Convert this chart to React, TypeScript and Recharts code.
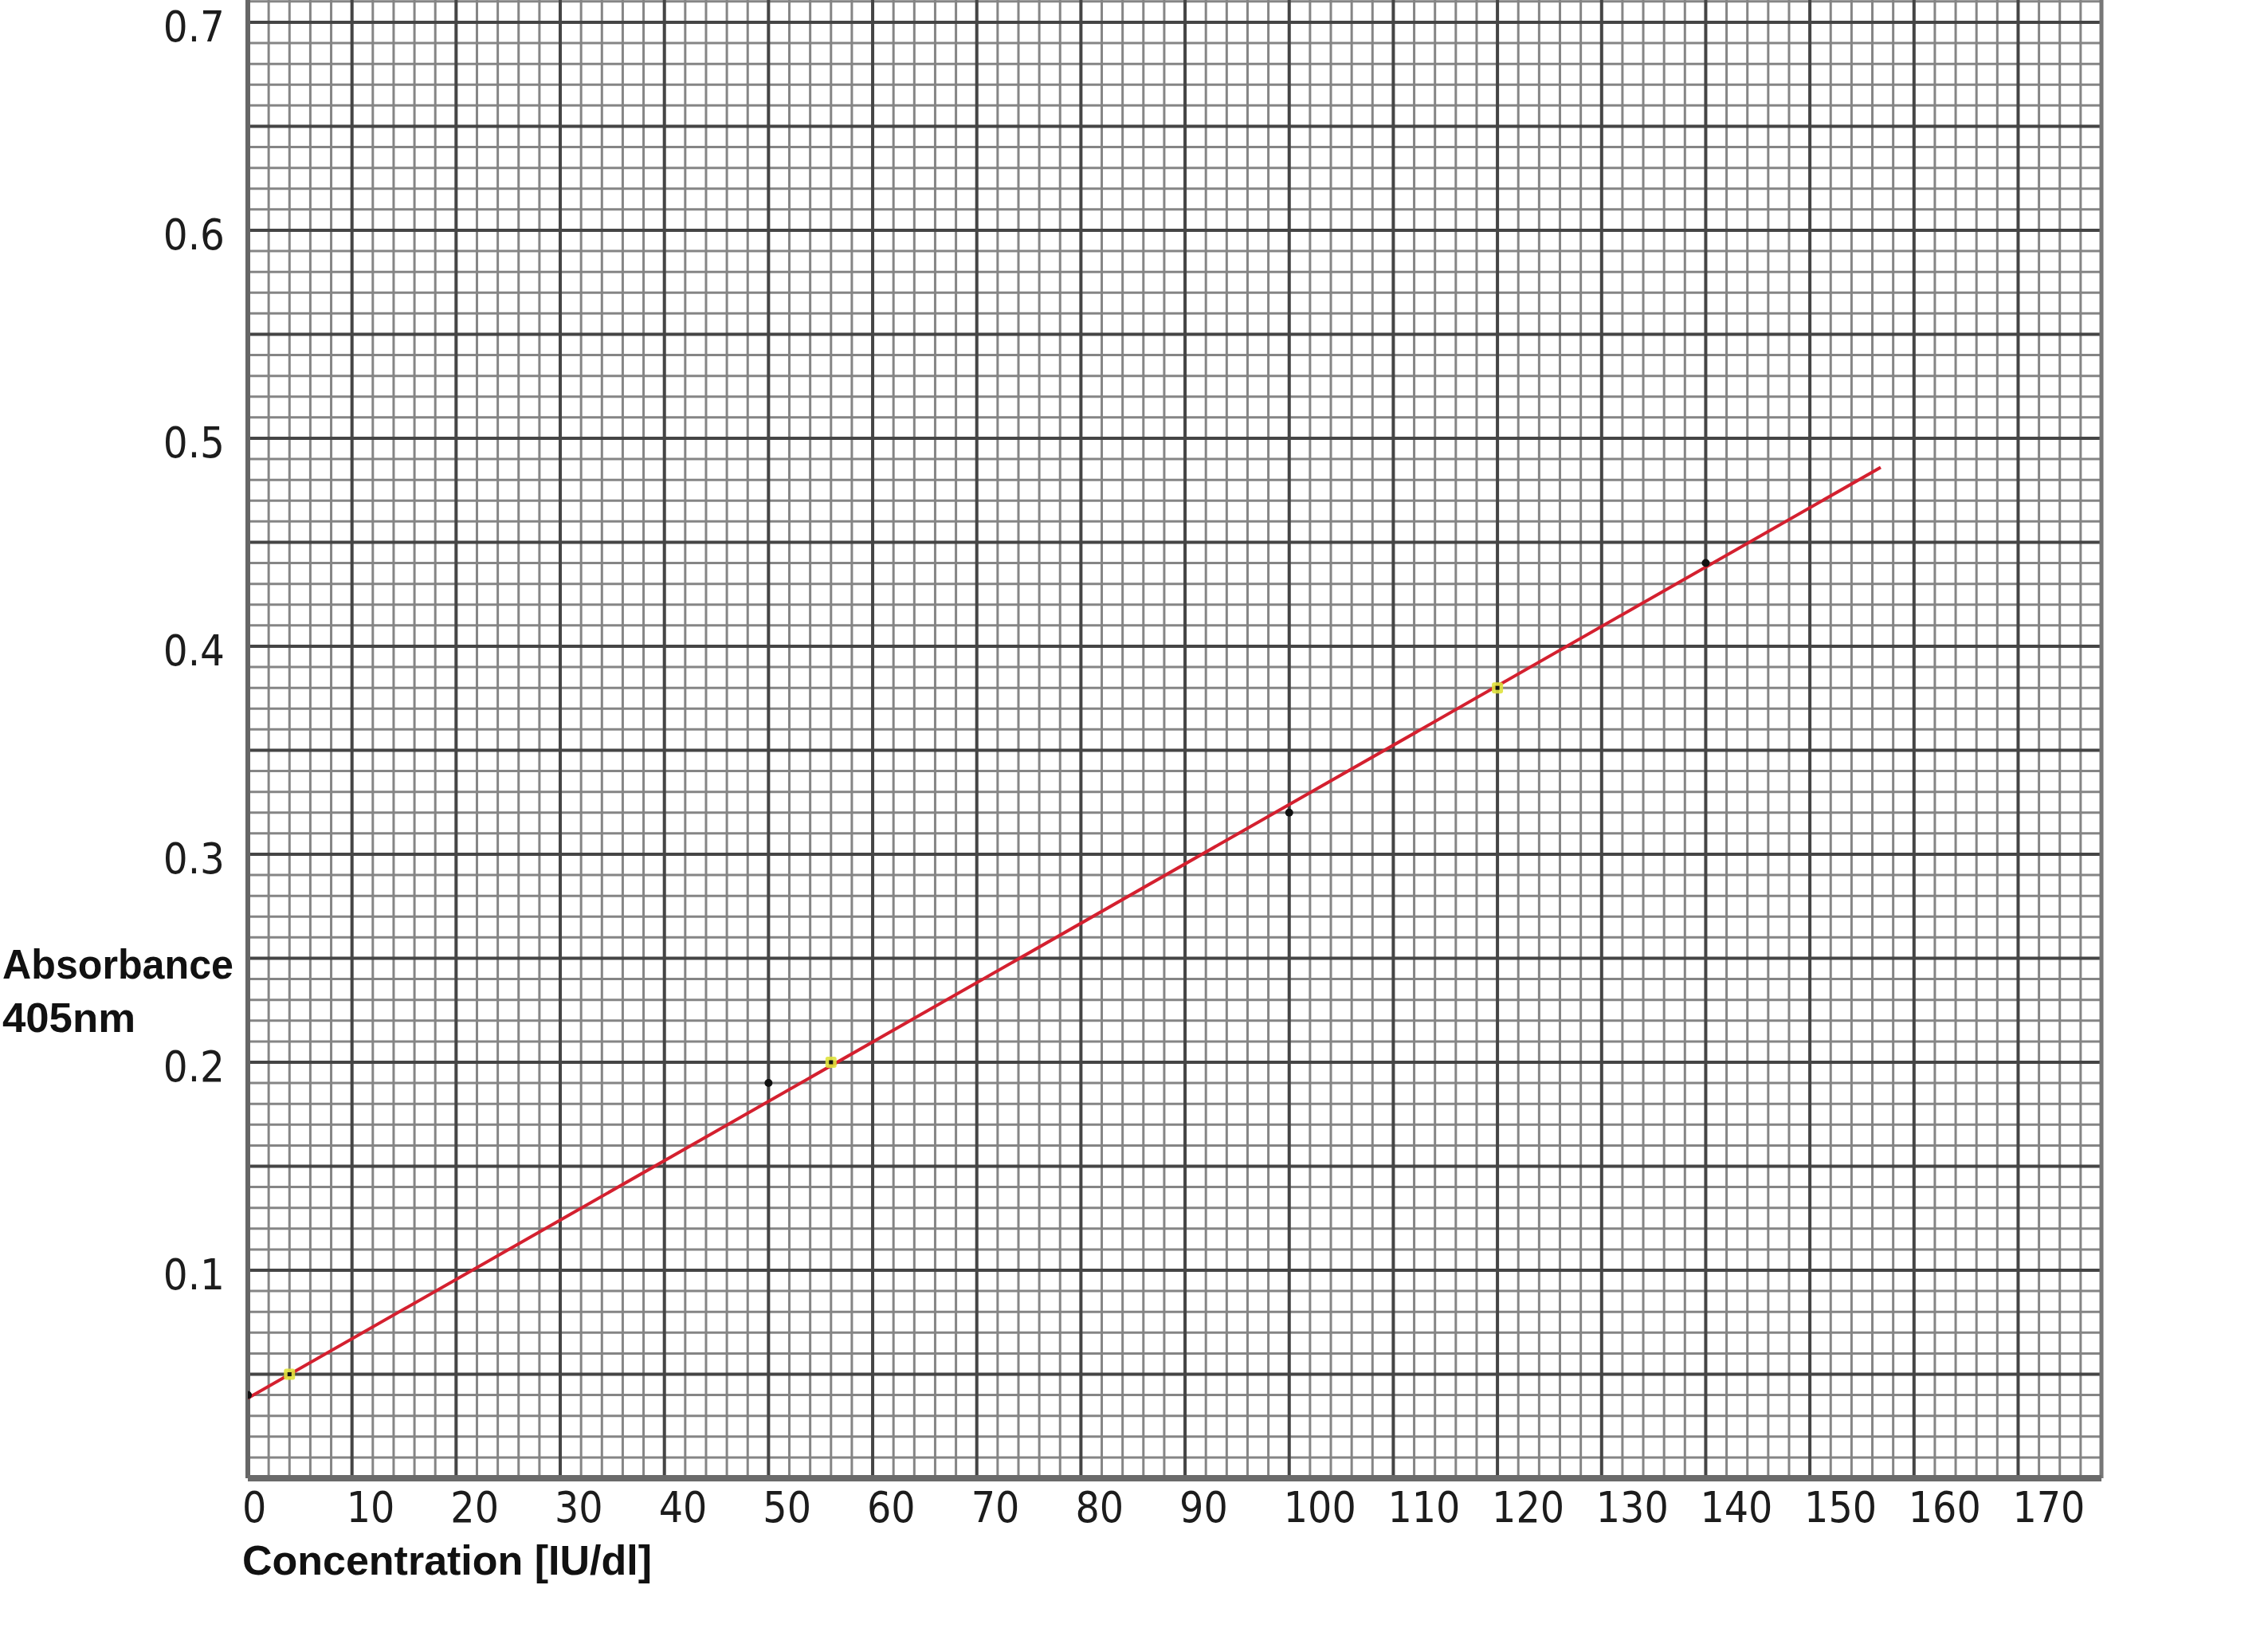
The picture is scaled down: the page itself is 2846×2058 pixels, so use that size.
import React from "react";
import { ScatterChart, Scatter, XAxis, YAxis, ReferenceLine } from "recharts";

// ---- data ----
const standardConc = [0, 50, 100, 140];
const standardAbs = [0.04, 0.19, 0.32, 0.44];
const sampleConc = [4, 56, 120];
const sampleAbs = [0.05, 0.2, 0.38];
const fitConc = [0, 156.8];
const fitAbs = [0.0385, 0.486];

const xTicks = [0, 10, 20, 30, 40, 50, 60, 70, 80, 90, 100, 110, 120, 130, 140, 150, 160, 170];
const yTicks = [0.1, 0.2, 0.3, 0.4, 0.5, 0.6, 0.7];

const X_MAX = 178;
const Y_MAX = 0.7107;

// grid (graph paper) positions
const xMinor: number[] = [];
for (let i = 0; i <= 89; i++) xMinor.push(i * 2);
const xMajor: number[] = [];
for (let i = 0; i <= 17; i++) xMajor.push(i * 10);
const yMinor: number[] = [];
for (let i = 0; i <= 71; i++) yMinor.push(i / 100);
const yMajor: number[] = [];
for (let i = 0; i <= 14; i++) yMajor.push((i * 5) / 100);

const zip = (xs: number[], ys: number[]) => xs.map((x, i) => ({ x, y: ys[i] }));
const standardData = zip(standardConc, standardAbs);
const sampleData = zip(sampleConc, sampleAbs);
const fitData = zip(fitConc, fitAbs);

const FONT = "'Liberation Sans Narrow', 'DejaVu Sans Condensed', 'Liberation Sans', sans-serif";
const TEXT = "#1c1c1c";

const XTick = (props: any) => {
  const { x, y, payload } = props;
  return (
    <text x={x - 7} y={y} dy="0.71em" textAnchor="start" fontFamily={FONT} fontSize={53} fill={TEXT}>
      {payload.value}
    </text>
  );
};

const YTick = (props: any) => {
  const { x, y, payload } = props;
  return (
    <text x={x} y={y + 5} dy="0.355em" textAnchor="end" fontFamily={FONT} fontSize={54} fill={TEXT}>
      {payload.value}
    </text>
  );
};

const BlackDot = (props: any) => {
  const { cx, cy } = props;
  return <circle cx={cx} cy={cy} r={5} fill="#111" />;
};

const YellowDot = (props: any) => {
  const { cx, cy } = props;
  return (
    <g>
      <rect x={cx - 7} y={cy - 7} width={14} height={14} rx={3} fill="#dfe23c" opacity={0.9} />
      <rect x={cx - 2.5} y={cy - 2.5} width={5} height={5} fill="#111" />
    </g>
  );
};

const NoShape = () => <g />;

export default function App() {
  return (
    <div style={{ position: "absolute", left: 0, top: 0, width: 2846, height: 2058, background: "#fff" }}>
      <ScatterChart width={2846} height={2058} margin={{ top: 0, right: 209, bottom: 0, left: 0 }}>
        <XAxis
          type="number"
          dataKey="x"
          domain={[0, X_MAX]}
          allowDataOverflow
          ticks={xTicks}
          interval={0}
          axisLine={false}
          tickLine={false}
          tickSize={0}
          tickMargin={17}
          height={203}
          tick={<XTick />}
          label={(p: any) => {
            const vb = p.viewBox || { x: 311, y: 1855 };
            return (
              <text
                x={vb.x - 7}
                y={vb.y + 121}
                fontFamily="'Liberation Sans', Arial, sans-serif"
                fontWeight="bold"
                fontSize={52}
                fill="#111"
                textLength={514}
                lengthAdjust="spacingAndGlyphs"
              >
                Concentration [IU/dl]
              </text>
            );
          }}
        />
        <YAxis
          type="number"
          dataKey="y"
          domain={[0, Y_MAX]}
          allowDataOverflow
          ticks={yTicks}
          interval={0}
          axisLine={false}
          tickLine={false}
          tickSize={0}
          tickMargin={29}
          width={311}
          tick={<YTick />}
          label={() => (
            <g fontFamily="'Liberation Sans', Arial, sans-serif" fontWeight="bold" fontSize={52} fill="#111">
              <text x={3} y={1228} textLength={290} lengthAdjust="spacingAndGlyphs">
                Absorbance
              </text>
              <text x={3} y={1295} textLength={167} lengthAdjust="spacingAndGlyphs">
                405nm
              </text>
            </g>
          )}
        />
        {xMinor.map((v) => (
          <ReferenceLine key={"xm" + v} x={v} stroke="#858585" strokeWidth={3} />
        ))}
        {yMinor.map((v) => (
          <ReferenceLine key={"ym" + v} y={v} stroke="#858585" strokeWidth={3} />
        ))}
        {xMajor.map((v) => (
          <ReferenceLine key={"xM" + v} x={v} stroke="#454545" strokeWidth={4} />
        ))}
        {yMajor.map((v) => (
          <ReferenceLine key={"yM" + v} y={v} stroke="#454545" strokeWidth={4} />
        ))}
        <ReferenceLine x={0} stroke="#666" strokeWidth={6} />
        <ReferenceLine x={X_MAX} stroke="#777" strokeWidth={5} />
        <ReferenceLine y={0} stroke="#6a6a6a" strokeWidth={8} />
        <Scatter
          data={fitData}
          line={{ stroke: "#d4202f", strokeWidth: 4 }}
          shape={<NoShape />}
          isAnimationActive={false}
        />
        <Scatter data={standardData} shape={<BlackDot />} isAnimationActive={false} />
        <Scatter data={sampleData} shape={<YellowDot />} isAnimationActive={false} />
      </ScatterChart>
    </div>
  );
}
